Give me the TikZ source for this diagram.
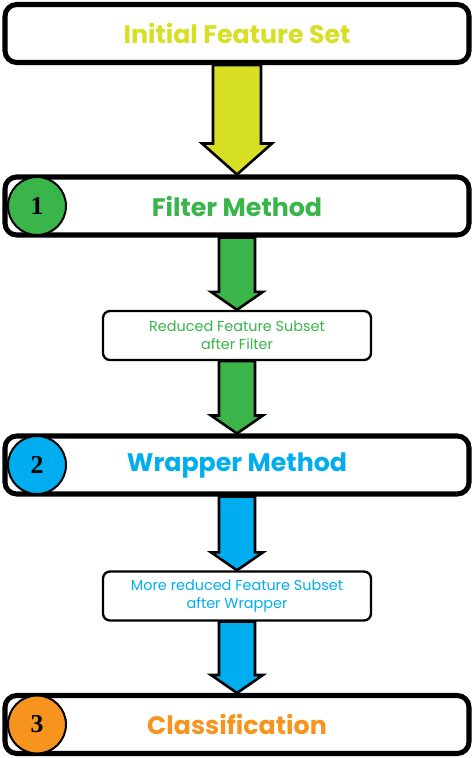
\documentclass[tikz,border=0pt]{standalone}
\usepackage{fontspec}
\setmainfont{Poppins}
\newfontfamily\numfont{Liberation Serif}
\usetikzlibrary{calc,backgrounds}
\definecolor{featyellow}{RGB}{215,223,35}
\definecolor{filtgreen}{RGB}{57,181,74}
\definecolor{wrapblue}{RGB}{0,174,239}
\definecolor{classorange}{RGB}{247,148,30}

\begin{document}
\begin{tikzpicture}[
                    x=0.03cm,
                    y=-0.03cm,
                    stagebox/.style={
                        draw=black,
                        line width=4.3pt,
                        rounded corners=10pt,
                        fill=white,
                        minimum width=13.92cm,
                        minimum height=1.74cm,
                        font=\fontsize{21.6}{26}\selectfont\bfseries
                    },
                    subsetbox/.style={
                        draw=black,
                        line width=2pt,
                        rounded corners=6pt,
                        fill=white,
                        minimum width=8.04cm,
                        minimum height=1.47cm,
                        align=center,
                        font=\fontsize{12.3}{15.5}\selectfont
                    },
                    stepnum/.style={
                        circle,
                        draw=black,
                        line width=1.7pt,
                        minimum size=1.74cm,
                        inner sep=0pt,
                        font=\numfont\bfseries\fontsize{22}{22}\selectfont
                    },
                    flowarrow/.style={
                        draw=black,
                        line width=2.2pt,
                        line join=miter
                    }
                ]
                    \useasboundingbox (0,0) rectangle (474,758);
                    % stages
                    \node[stagebox, text=featyellow] (init) at (237,33.5) {Initial Feature Set};
                    \node[stagebox, text=filtgreen] (filt) at (237,206) {Filter Method};
                    \node[subsetbox, text=filtgreen] (reduced) at (237,335.5) {Reduced Feature Subset\\after Filter};
                    \node[stagebox, text=wrapblue] (wrap) at (237,465) {Wrapper Method};
                    \node[subsetbox, text=wrapblue] (more) at (237,596) {More reduced Feature Subset\\after Wrapper};
                    \node[stagebox, text=classorange] (classif) at (237,724.5) {Classification};
                    % step numbers
                    \node[stepnum, fill=filtgreen] (one) at (37,206) {1};
                    \node[stepnum, fill=wrapblue] (two) at (37,465) {2};
                    \node[stepnum, fill=classorange] (three) at (37,724.5) {3};
                    % block arrows
                    \begin{scope}[on background layer]
                        \foreach \from/\to/\col/\sw/\hw/\hl in {init/filt/featyellow/24/35/31,
                                                              filt/reduced/filtgreen/18/26/18,
                                                              reduced/wrap/filtgreen/18/26/18,
                                                              wrap/more/wrapblue/18/26/18,
                                                              more/classif/wrapblue/18/26/18}
                            \draw[flowarrow, fill=\col] ($(\from.south)+(-\sw,0)$) -- ($(\from.south)+(\sw,0)$)
                                -- ($(\to.north)+(\sw,-\hl)$) -- ($(\to.north)+(\hw,-\hl)$) -- (\to.north)
                                -- ($(\to.north)+(-\hw,-\hl)$) -- ($(\to.north)+(-\sw,-\hl)$) -- cycle;
                    \end{scope}
                \end{tikzpicture}
\end{document}
